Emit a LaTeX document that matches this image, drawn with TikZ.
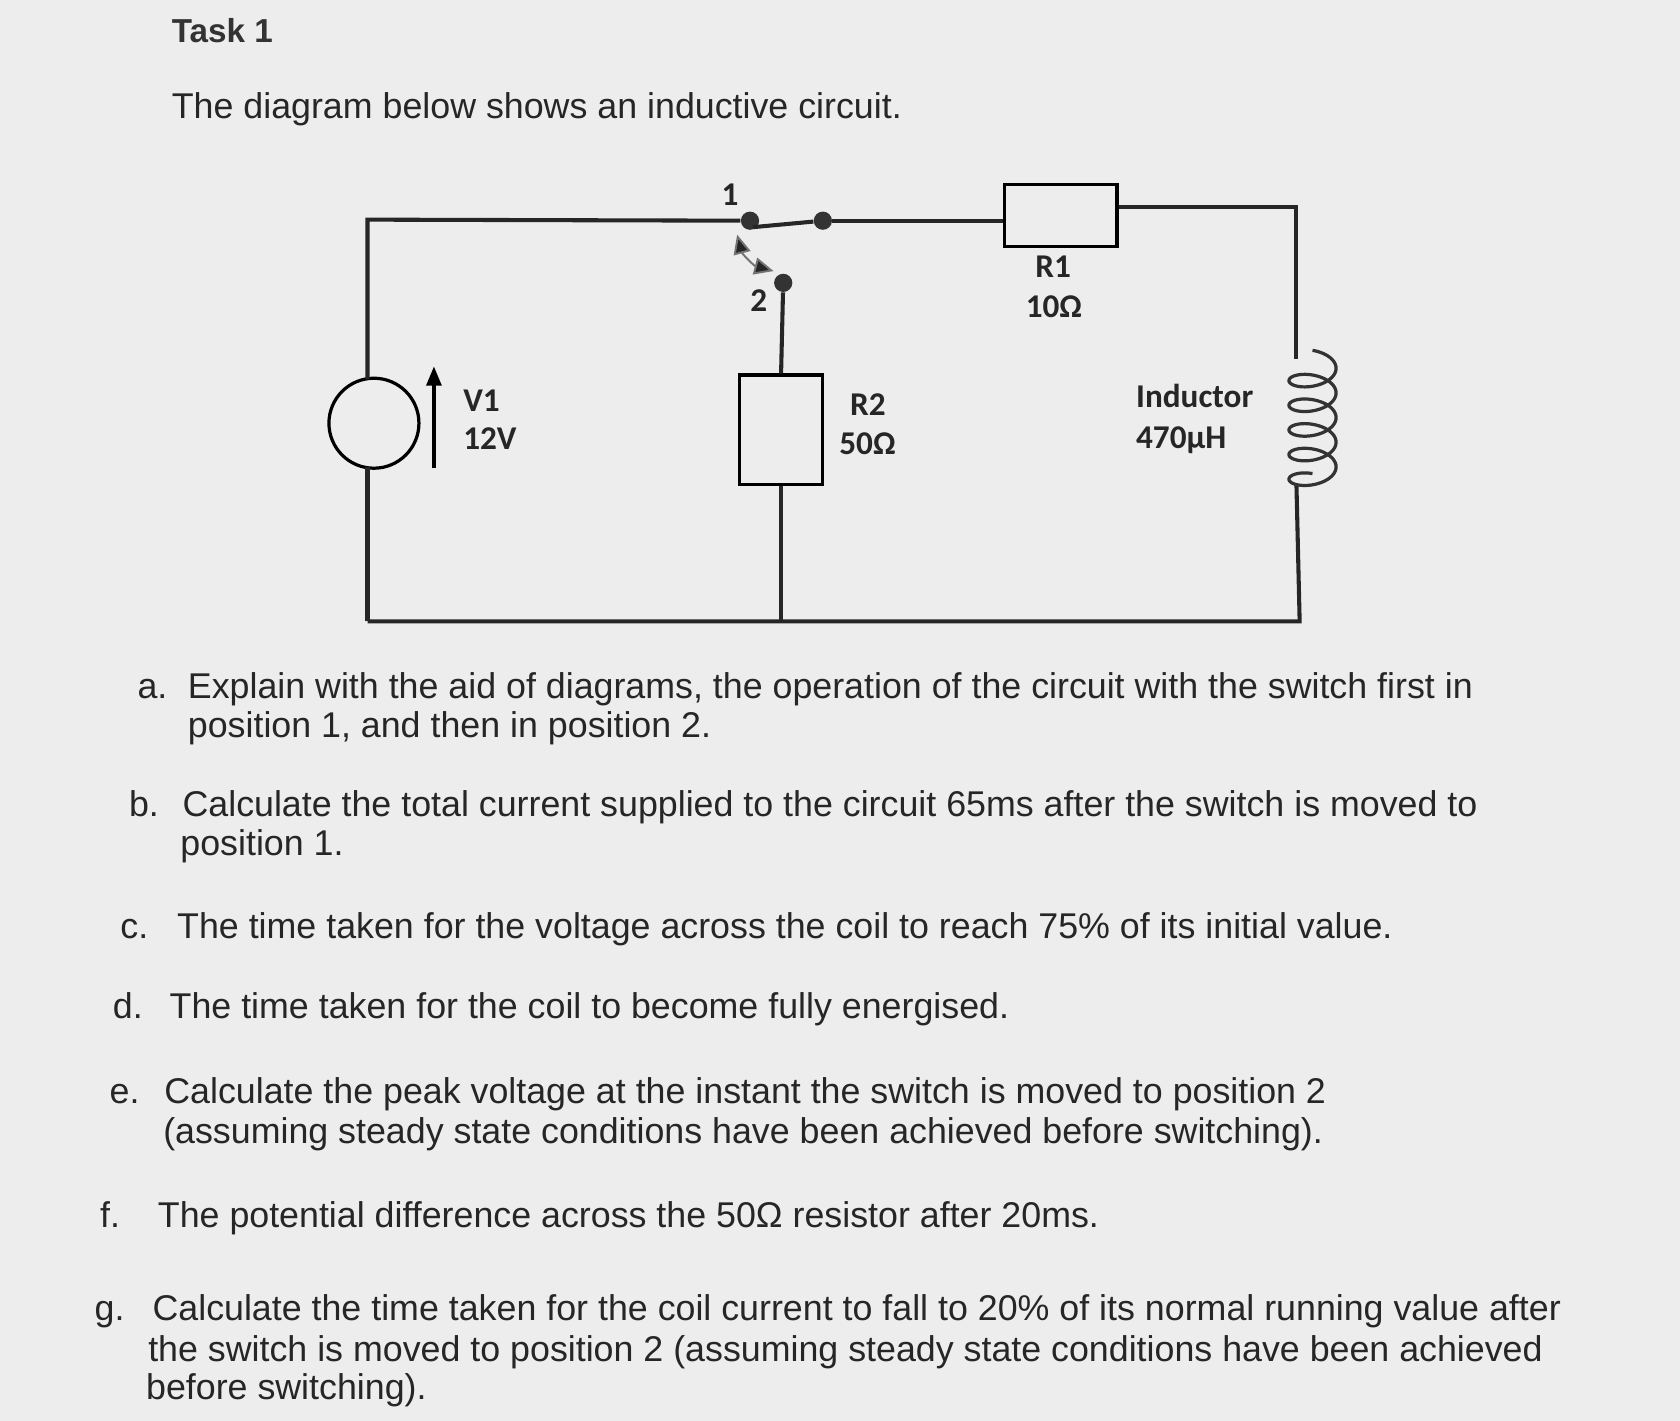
\documentclass[tikz,border=0pt]{standalone}
\usepackage{fontspec}
\setmainfont{Liberation Sans}
\newfontfamily\calfnt{Carlito}
\usetikzlibrary{arrows.meta}
\begin{document}
\begin{tikzpicture}[x=0.5pt,y=-0.5pt,
  w/.style={line width=1.9pt,black!85},
  q/.style={anchor=base west,inner sep=0pt,font=\fontsize{16.7}{19}\selectfont,text=black!85},
  lb/.style={anchor=base west,inner sep=0pt,font=\calfnt\bfseries\fontsize{15.5}{18}\selectfont,text=black!85},
  dotn/.style={circle,fill=black!80,inner sep=0pt,minimum size=8.5pt}]
\useasboundingbox[fill=black!7] (0,0) rectangle (1568,1326);
\node[anchor=base west,inner sep=0pt,font=\bfseries\fontsize{15.5}{18}\selectfont,text=black!80] (task) at (160,40) {Task 1};
\node[q] (intro) at (160,111) {The diagram below shows an inductive circuit.};
% circuit
\coordinate (tl) at (343,205); \coordinate (bl) at (343,580);
\coordinate (br) at (1213,580); \coordinate (tr) at (1210,193);
\node[dotn] (s1) at (700,206) {};
\node[dotn] (s0) at (768,206) {};
\node[dotn] (s2) at (731,264) {};
\node[draw,line width=1.5pt,minimum width=52.5pt,minimum height=29pt,inner sep=0pt] (R1) at (990,201) {};
\node[draw,line width=1.5pt,minimum width=39pt,minimum height=51pt,inner sep=0pt] (R2) at (729,401) {};
\node[draw,circle,line width=1.5pt,minimum size=42pt,inner sep=0pt] (V1) at (349,395) {};
\draw[w] (bl) -- (343,436); \draw[w] (343,354) -- (tl) -- (s1);
\draw[w] (703,212) -- (s0);
\draw[w] (s0) -- (R1.west|-s0);
\draw[w] (R1.east|-tr) -- (tr) -- (1210,335);
\draw[w] (1210,452) -- (br) -- (bl);
\draw[w] (s2) -- (R2.north); \draw[w] (R2.south) -- (729,580);
\draw[line width=1.5pt,black!80] plot[domain=-90:1710,samples=300,smooth] ({1225+22*cos(\x)},{338+(\x+90)/360*23+11*sin(\x)});
\draw[line width=1.5pt,-{Triangle[length=9pt,width=7pt]}] (405,437) -- (405,342);
\draw[black!55,line width=0.9pt,{Triangle[length=9pt,width=8pt,fill=black!85]}-{Triangle[length=9pt,width=8pt,fill=black!85]}] (688,219) to[bend right=30] (722,253);
\node[lb] (n1) at (673,192) {1};
\node[lb] (n2) at (700,291) {2};
\node[lb] (v1) at (432,384) {V1};
\node[lb] (v2) at (432,420) {12V};
\node[lb] (r2a) at (793,388) {R2};
\node[lb] (r2b) at (783,424) {50Ω};
\node[lb] (r1a) at (966,259) {R1};
\node[lb] (r1b) at (957,296) {10Ω};
\node[lb] (la) at (1060,380) {Inductor};
\node[lb] (lb2) at (1060,419) {470µH};
% questions
\node[q] (qa) at (128,652) {a.};
\node[q] at (175,652) {Explain with the aid of diagrams, the operation of the circuit with the switch first in};
\node[q] at (175,688) {position 1, and then in position 2.};
\node[q] (qb) at (120,762) {b.};
\node[q] at (170,762) {Calculate the total current supplied to the circuit 65ms after the switch is moved to};
\node[q] at (168,798) {position 1.};
\node[q] (qc) at (112,876) {c.};
\node[q] at (165,876) {The time taken for the voltage across the coil to reach 75\% of its initial value.};
\node[q] (qd) at (105,951) {d.};
\node[q] at (158,951) {The time taken for the coil to become fully energised.};
\node[q] (qe) at (102,1030) {e.};
\node[q] at (153,1030) {Calculate the peak voltage at the instant the switch is moved to position 2};
\node[q] at (152,1067) {(assuming steady state conditions have been achieved before switching).};
\node[q] (qf) at (93,1146) {f.};
\node[q] at (147,1146) {The potential difference across the 50Ω resistor after 20ms.};
\node[q] (qg) at (88,1232) {g.};
\node[q] at (142,1232) {Calculate the time taken for the coil current to fall to 20\% of its normal running value after};
\node[q] at (138,1271) {the switch is moved to position 2 (assuming steady state conditions have been achieved};
\node[q] at (136,1306) {before switching).};
\end{tikzpicture}
\end{document}
